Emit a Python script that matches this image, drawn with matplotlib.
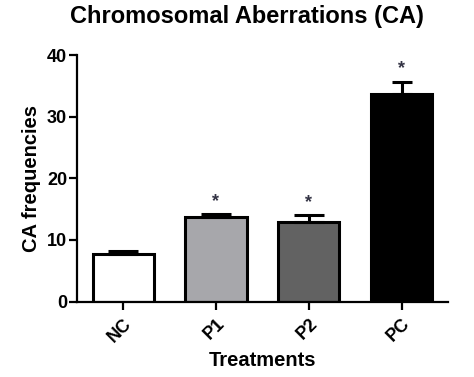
import matplotlib
matplotlib.use('Agg')
import matplotlib.pyplot as plt

# DONNEES
treatments = ['NC', 'P1', 'P2', 'PC']
ca_means = [7.7, 13.7, 12.9, 33.7]
ca_sem = [0.5, 0.5, 1.1, 2.0]
significant = [False, True, True, True]
bar_colors = ['#ffffff', '#a7a7ab', '#626262', '#000000']
cap_sizes = [11, 11, 11, 7]

plt.rcParams['font.family'] = ['Liberation Sans', 'DejaVu Sans']
plt.rcParams['font.weight'] = 'bold'

fig = plt.figure(figsize=(4.74, 3.77), dpi=100)
ax = fig.add_axes([0.162, 0.200, 0.783, 0.654])

x = range(len(treatments))
ax.bar(x, ca_means, width=0.66, color=bar_colors, edgecolor='black', linewidth=2.2, zorder=2)
for i in x:
    ax.errorbar(i, ca_means[i], yerr=[[0], [ca_sem[i]]], fmt='none', ecolor='black',
                elinewidth=2.2, capsize=cap_sizes[i], capthick=2.2, zorder=3)
    if significant[i]:
        ax.text(i, ca_means[i] + ca_sem[i] + 2.1, '*', ha='center', va='center',
                fontsize=13, color='#333344')

ax.set_xlim(-0.5, 3.5)
ax.set_ylim(0, 40)
ax.set_yticks([0, 10, 20, 30, 40])
ax.set_xticks(list(x))
ax.set_xticklabels(treatments, rotation=45, ha='right', rotation_mode='anchor', fontsize=13, fontweight='bold')
for lab in ax.get_yticklabels():
    lab.set_fontsize(13)
    lab.set_fontweight('bold')

ax.spines['top'].set_visible(False)
ax.spines['right'].set_visible(False)
ax.spines['left'].set_linewidth(1.6)
ax.spines['bottom'].set_linewidth(1.6)
ax.tick_params(axis='both', width=1.6, length=6, direction='out', pad=1)
ax.tick_params(axis='x', pad=4)

ax.set_ylabel('CA frequencies', fontsize=14.5, fontweight='bold', labelpad=4)
ax.set_xlabel('Treatments', fontsize=14.5, fontweight='bold', labelpad=4)
fig.text(0.52, 0.955, 'Chromosomal Aberrations (CA)', ha='center', va='center',
         fontsize=17, fontweight='bold')

fig.savefig('out.png', dpi=100)
